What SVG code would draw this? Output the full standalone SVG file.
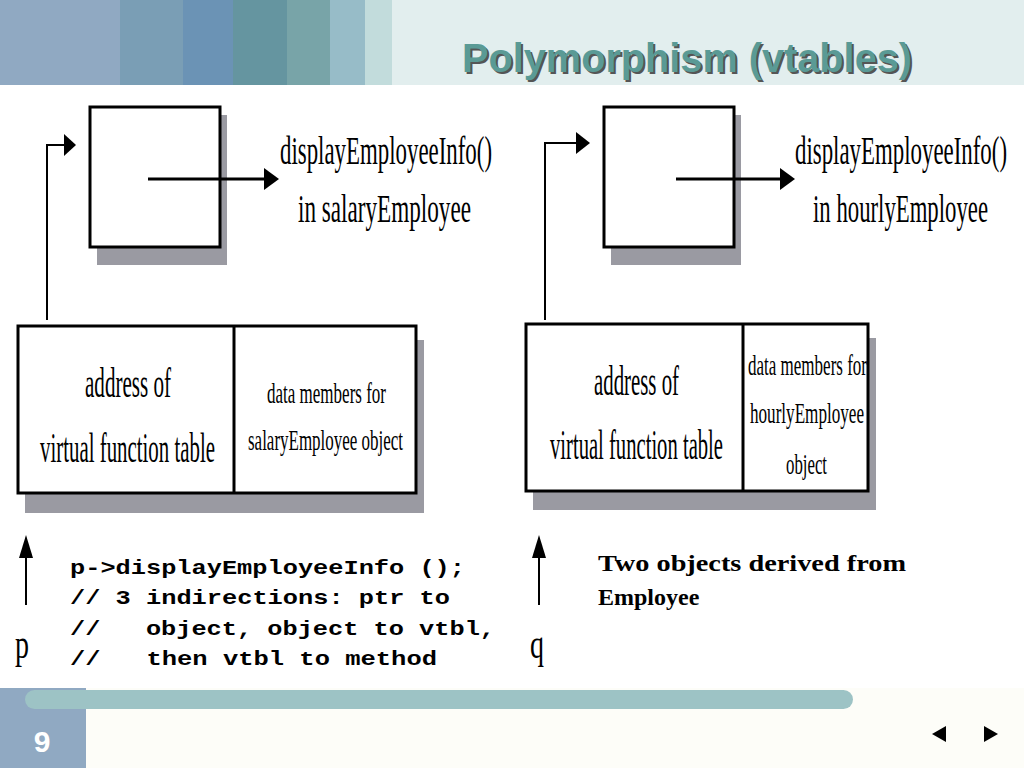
<svg xmlns="http://www.w3.org/2000/svg" width="1024" height="768" viewBox="0 0 1024 768">
<style>
.box{fill:#fff;stroke:#000;stroke-width:3}
.sh{fill:#9a9aa2}
.t{font-family:"Liberation Serif",serif;fill:#000}
.ln{stroke:#000;stroke-width:2;fill:none}
.arr{stroke:#000;stroke-width:3;fill:none}
.code{font-family:"Liberation Mono",monospace;font-weight:bold;font-size:21px;fill:#000}
</style>
<rect width="1024" height="768" fill="#fff"/>
<rect x="0" y="0" width="1024" height="85" fill="#e2eeee"/>
<rect x="0" y="0" width="120" height="85" fill="#90a9c2"/>
<rect x="120" y="0" width="63" height="85" fill="#7a9eb5"/>
<rect x="183" y="0" width="50" height="85" fill="#6b93b5"/>
<rect x="233" y="0" width="54" height="85" fill="#6595a0"/>
<rect x="287" y="0" width="43" height="85" fill="#78a4a8"/>
<rect x="330" y="0" width="35" height="85" fill="#97bcc8"/>
<rect x="365" y="0" width="27" height="85" fill="#c2dcdc"/>
<text x="464" y="74" textLength="450" lengthAdjust="spacingAndGlyphs" font-family="Liberation Sans,Arial,sans-serif" font-weight="bold" font-size="40" fill="#555">Polymorphism (vtables)</text>
<text x="462" y="72" textLength="450" lengthAdjust="spacingAndGlyphs" font-family="Liberation Sans,Arial,sans-serif" font-weight="bold" font-size="40" fill="#5a9a95">Polymorphism (vtables)</text>
<rect x="0" y="688" width="1024" height="80" fill="#fdfdf8"/>
<rect x="0" y="688" width="86" height="80" fill="#90a9c2"/>
<rect x="25" y="690" width="828" height="19" rx="9.5" fill="#9dc3c5"/>
<text x="42" y="752" text-anchor="middle" font-family="Liberation Sans,Arial,sans-serif" font-weight="bold" font-size="30" fill="#fff">9</text>
<path d="M946,726 L946,742 L932,734z M984,726 L984,742 L998,734z" fill="#000"/>

<g id="vt1">
<rect class="sh" x="97" y="115" width="130" height="150"/>
<rect class="box" x="90" y="107" width="130" height="140"/>
</g>
<g id="vt2">
<rect class="sh" x="611" y="115" width="130" height="150"/>
<rect class="box" x="604" y="107" width="130" height="140"/>
</g>
<g id="lbl1">
<text class="t" font-size="40" x="280" y="164" textLength="212" lengthAdjust="spacingAndGlyphs">displayEmployeeInfo()</text>
<text class="t" font-size="40" x="298" y="222" textLength="173" lengthAdjust="spacingAndGlyphs">in salaryEmployee</text></g>
<g id="lbl2">
<text class="t" font-size="40" x="795" y="164" textLength="212" lengthAdjust="spacingAndGlyphs">displayEmployeeInfo()</text>
<text class="t" font-size="40" x="813" y="222" textLength="175" lengthAdjust="spacingAndGlyphs">in hourlyEmployee</text></g>
<g id="obj1">
<rect class="sh" x="25" y="340" width="399" height="173"/>
<rect class="box" x="18" y="326" width="398" height="167"/>
<line class="box" x1="234" y1="326" x2="234" y2="493"/>
<text class="t" font-size="42" x="85" y="397" textLength="86" lengthAdjust="spacingAndGlyphs">address of</text>
<text class="t" font-size="42" x="40" y="462" textLength="175" lengthAdjust="spacingAndGlyphs">virtual function table</text>
<text class="t" font-size="30" x="267" y="403" textLength="119" lengthAdjust="spacingAndGlyphs">data members for</text>
<text class="t" font-size="30" x="248" y="450" textLength="155" lengthAdjust="spacingAndGlyphs">salaryEmployee object</text>
</g>
<g id="obj2">
<rect class="sh" x="533" y="338" width="343" height="172"/>
<rect class="box" x="526" y="324" width="342" height="167"/>
<line class="box" x1="743" y1="324" x2="743" y2="491"/>
<text class="t" font-size="42" x="594" y="395" textLength="85" lengthAdjust="spacingAndGlyphs">address of</text>
<text class="t" font-size="42" x="550" y="459" textLength="173" lengthAdjust="spacingAndGlyphs">virtual function table</text>
<text class="t" font-size="30" x="748" y="375" textLength="119" lengthAdjust="spacingAndGlyphs">data members for</text>
<text class="t" font-size="30" x="750" y="423" textLength="114" lengthAdjust="spacingAndGlyphs">hourlyEmployee</text>
<text class="t" font-size="30" x="786" y="474" textLength="41" lengthAdjust="spacingAndGlyphs">object</text>
</g>
<g id="connectors">
<path class="ln" d="M47,320 L47,145 L66,145"/>
<path d="M64,134 L76,145 L64,156z"/>
<path class="ln" d="M545,320 L545,143 L578,143"/>
<path d="M576,132 L590,143 L576,154z"/>
<line class="arr" x1="148" y1="179" x2="266" y2="179"/>
<path d="M264,168 L279,179 L264,190z"/>
<line class="arr" x1="676" y1="179" x2="782" y2="179"/>
<path d="M780,168 L795,179 L780,190z"/>
<line class="ln" x1="26" y1="555" x2="26" y2="605"/>
<path d="M19,558 L26,535 L33,558z"/>
<line class="ln" x1="539" y1="555" x2="539" y2="605"/>
<path d="M532,558 L539,535 L546,558z"/>
</g>
<text class="t" font-size="42" x="15" y="658" textLength="14" lengthAdjust="spacingAndGlyphs">p</text>
<text class="t" font-size="42" x="530" y="658" textLength="14" lengthAdjust="spacingAndGlyphs">q</text>
<text class="code" x="70" y="574" textLength="395" lengthAdjust="spacingAndGlyphs">p-&gt;displayEmployeeInfo ();</text>
<text class="code" x="70" y="604" textLength="380" lengthAdjust="spacingAndGlyphs">// 3 indirections: ptr to</text>
<text class="code" x="70" y="635" textLength="425" lengthAdjust="spacingAndGlyphs" xml:space="preserve">//   object, object to vtbl,</text>
<text class="code" x="70" y="665" textLength="367" lengthAdjust="spacingAndGlyphs" xml:space="preserve">//   then vtbl to method</text>
<text x="598" y="571" font-family="Liberation Serif,serif" font-weight="bold" font-size="24" textLength="308" lengthAdjust="spacingAndGlyphs">Two objects derived from</text>
<text x="598" y="605" font-family="Liberation Serif,serif" font-weight="bold" font-size="24">Employee</text>
</svg>
